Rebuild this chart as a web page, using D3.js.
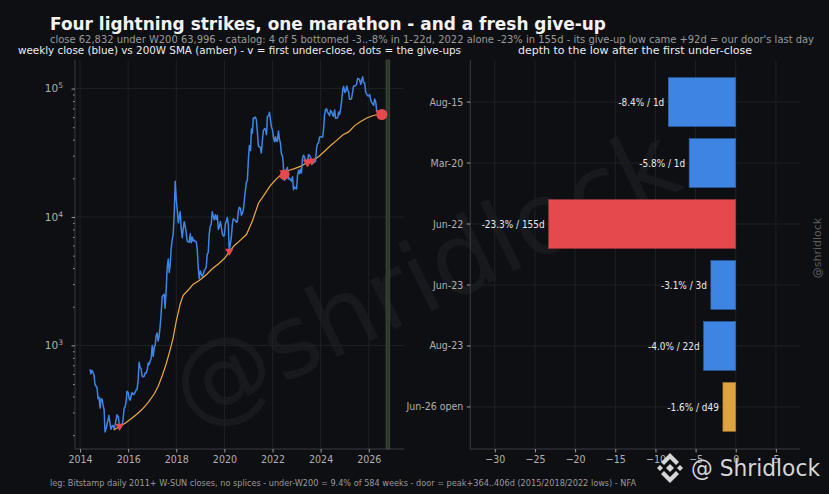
<!DOCTYPE html>
<html lang="en">
<head>
<meta charset="UTF-8">
<title>Four lightning strikes, one marathon</title>
<script src="https://cdn.jsdelivr.net/npm/d3@7"></script>
<style>
    body { margin: 0; background: #0d0f12; }
    svg { display: block; font-family: "DejaVu Sans", sans-serif; }
    .axis path { stroke: #3a3d42; }
    .axis line { stroke: #9a9a9a; }
    .axis text { fill: #b0b0b0; font-size: 10.5px; font-family: "DejaVu Sans", sans-serif; }
    .grid line { stroke: #1e2125; stroke-width: 1; }
</style>
</head>
<body>
<svg id="chart" width="829" height="494"></svg>
<script>
// weekly close (semi-monthly reading of the picture)
const weeklyClose = [
    ["2014-06-01",650],["2014-06-15",600],["2014-07-01",640],["2014-07-15",620],["2014-08-01",585],["2014-08-15",500],
    ["2014-09-01",480],["2014-09-15",470],["2014-10-01",385],["2014-10-15",395],["2014-11-01",325],["2014-11-15",385],
    ["2014-12-01",380],["2014-12-15",345],
    ["2015-01-01",315],["2015-01-15",212],["2015-02-01",225],["2015-02-15",245],["2015-03-01",262],["2015-03-15",285],
    ["2015-04-01",245],["2015-04-15",222],["2015-05-01",235],["2015-05-15",238],["2015-06-01",225],["2015-06-15",238],
    ["2015-07-01",262],["2015-07-15",288],["2015-08-01",280],["2015-08-15",255],["2015-08-23",229],["2015-09-01",228],
    ["2015-09-15",232],["2015-10-01",240],["2015-10-15",262],["2015-11-01",325],["2015-11-15",330],["2015-12-01",365],
    ["2015-12-15",440],
    ["2016-01-01",430],["2016-01-15",385],["2016-02-01",375],["2016-02-15",405],["2016-03-01",430],["2016-03-15",415],
    ["2016-04-01",418],["2016-04-15",430],["2016-05-01",450],["2016-05-15",455],["2016-06-01",540],["2016-06-15",740],
    ["2016-07-01",670],["2016-07-15",660],["2016-08-01",575],["2016-08-15",570],["2016-09-01",575],["2016-09-15",610],
    ["2016-10-01",610],["2016-10-15",640],["2016-11-01",730],["2016-11-15",710],["2016-12-01",760],["2016-12-15",790],
    ["2017-01-01",998],["2017-01-15",820],["2017-02-01",970],["2017-02-15",1010],["2017-03-01",1190],["2017-03-15",1250],
    ["2017-04-01",1080],["2017-04-15",1180],["2017-05-01",1420],["2017-05-15",1750],["2017-06-01",2400],["2017-06-15",2450],
    ["2017-07-01",2500],["2017-07-15",1950],["2017-08-01",2750],["2017-08-15",4000],["2017-09-01",4700],["2017-09-15",3700],
    ["2017-10-01",4300],["2017-10-15",5650],["2017-11-01",6700],["2017-11-15",7300],["2017-12-01",10900],["2017-12-15",19000],
    ["2018-01-01",13500],["2018-01-15",11500],["2018-02-01",9000],["2018-02-15",10000],["2018-03-01",11000],["2018-03-15",8300],
    ["2018-04-01",6900],["2018-04-15",8000],["2018-05-01",9200],["2018-05-15",8500],["2018-06-01",7500],["2018-06-15",6500],
    ["2018-07-01",6400],["2018-07-15",6350],["2018-08-01",7400],["2018-08-15",6300],["2018-09-01",7000],["2018-09-15",6500],
    ["2018-10-01",6600],["2018-10-15",6450],["2018-11-01",6400],["2018-11-15",5600],["2018-12-01",4000],["2018-12-15",3300],
    ["2019-01-01",3800],["2019-01-15",3600],["2019-02-01",3450],["2019-02-15",3600],["2019-03-01",3850],["2019-03-15",3900],
    ["2019-04-01",4100],["2019-04-15",5100],["2019-05-01",5300],["2019-05-15",7300],["2019-06-01",8550],["2019-06-15",8700],
    ["2019-07-01",11000],["2019-07-15",10200],["2019-08-01",9500],["2019-08-15",10400],["2019-09-01",9600],["2019-09-15",10300],
    ["2019-10-01",8000],["2019-10-15",8300],["2019-11-01",9200],["2019-11-15",8400],["2019-12-01",7400],["2019-12-15",7100],
    ["2020-01-01",7200],["2020-01-15",8800],["2020-02-01",9300],["2020-02-15",9900],["2020-03-01",8600],["2020-03-15",5400],
    ["2020-04-01",6200],["2020-04-15",6900],["2020-05-01",8800],["2020-05-15",9700],["2020-06-01",9500],["2020-06-15",9400],
    ["2020-07-01",9100],["2020-07-15",9200],["2020-08-01",11200],["2020-08-15",11900],["2020-09-01",11700],["2020-09-15",10300],
    ["2020-10-01",10700],["2020-10-15",11400],["2020-11-01",13800],["2020-11-15",16100],["2020-12-01",18700],["2020-12-15",19300],
    ["2021-01-01",29000],["2021-01-15",36000],["2021-02-01",33000],["2021-02-15",48500],["2021-03-01",45000],["2021-03-15",58900],
    ["2021-04-01",58800],["2021-04-15",60000],["2021-05-01",57000],["2021-05-15",46500],["2021-06-01",35600],["2021-06-15",35400],
    ["2021-07-01",34700],["2021-07-15",31500],["2021-08-01",40000],["2021-08-15",47100],["2021-09-01",48800],["2021-09-15",48300],
    ["2021-10-01",43800],["2021-10-15",60800],["2021-11-01",61300],["2021-11-15",65500],["2021-12-01",57000],["2021-12-15",50400],
    ["2022-01-01",47300],["2022-01-15",41800],["2022-02-01",38500],["2022-02-15",42200],["2022-03-01",39000],["2022-03-15",38800],
    ["2022-04-01",46800],["2022-04-15",40400],["2022-05-01",37700],["2022-05-15",31300],["2022-06-01",29800],["2022-06-12",26600],
    ["2022-06-19",20500],["2022-07-01",19300],["2022-07-15",21200],["2022-08-01",23300],["2022-08-15",24300],["2022-09-01",19800],
    ["2022-09-15",20100],["2022-10-01",19400],["2022-10-15",19100],["2022-11-01",20600],["2022-11-15",16300],["2022-12-01",17100],
    ["2022-12-15",16800],
    ["2023-01-01",16550],["2023-01-15",20900],["2023-02-01",23100],["2023-02-15",21800],["2023-03-01",23500],["2023-03-15",22000],
    ["2023-04-01",28500],["2023-04-15",30300],["2023-05-01",29300],["2023-05-15",26900],["2023-06-01",27200],["2023-06-11",25900],
    ["2023-07-01",30500],["2023-07-15",30300],["2023-08-01",29300],["2023-08-20",26100],["2023-09-01",26000],["2023-09-15",26500],
    ["2023-10-01",26900],["2023-10-15",27000],["2023-11-01",34500],["2023-11-15",37100],["2023-12-01",37700],["2023-12-15",41900],
    ["2024-01-01",42300],["2024-01-15",41800],["2024-02-01",42000],["2024-02-15",48300],["2024-03-01",62400],["2024-03-15",68400],
    ["2024-04-01",69600],["2024-04-15",65700],["2024-05-01",63900],["2024-05-15",61500],["2024-06-01",67700],["2024-06-15",66200],
    ["2024-07-01",62700],["2024-07-15",60800],["2024-08-01",68200],["2024-08-15",58700],["2024-09-01",58900],["2024-09-15",59200],
    ["2024-10-01",65600],["2024-10-15",62900],["2024-11-01",69900],["2024-11-15",80300],["2024-12-01",97000],["2024-12-15",104000],
    ["2025-01-01",93400],["2025-01-15",94500],["2025-02-01",104700],["2025-02-15",97500],["2025-03-01",94300],["2025-03-15",82500],
    ["2025-04-01",82500],["2025-04-15",83800],["2025-05-01",94200],["2025-05-15",104600],["2025-06-01",104600],["2025-06-15",105500],
    ["2025-07-01",108300],["2025-07-15",119800],["2025-08-01",119400],["2025-08-15",117300],["2025-09-01",108200],["2025-09-15",115300],
    ["2025-10-01",123500],["2025-10-15",111000],["2025-11-01",110000],["2025-11-15",94000],["2025-12-01",90500],["2025-12-15",88000],
    ["2026-01-01",87500],["2026-01-15",90000],["2026-02-01",81000],["2026-02-15",78000],["2026-03-01",76000],["2026-03-15",74000],
    ["2026-04-01",83000],["2026-04-15",80000],["2026-05-01",68000],["2026-05-15",66000],["2026-06-01",67000],["2026-06-14",63500],
    ["2026-07-01",64500],["2026-07-19",62832]
];

// 200-week SMA (amber)
const sma200 = [
    ["2015-05-24",219],["2015-08-16",232],["2015-11-15",248],["2016-02-15",268],["2016-05-15",292],["2016-08-01",318],
    ["2016-11-01",360],["2017-02-01",420],["2017-04-01",480],["2017-06-01",580],["2017-08-01",720],["2017-10-01",930],
    ["2017-11-15",1150],["2018-01-01",1550],["2018-03-01",2100],["2018-04-15",2450],["2018-07-15",2750],["2018-09-15",3000],
    ["2018-12-15",3200],["2019-04-01",3550],["2019-07-01",3950],["2019-10-01",4300],["2020-01-01",4750],["2020-03-15",5350],
    ["2020-06-01",6000],["2020-09-01",6600],["2020-12-01",7300],["2021-03-01",9300],["2021-06-01",12800],["2021-09-01",15000],
    ["2021-12-01",17600],["2022-03-01",19800],["2022-06-01",21800],["2022-09-01",23000],["2022-12-01",23800],["2023-03-01",24800],
    ["2023-06-01",26300],["2023-09-01",27600],["2023-12-01",29500],["2024-03-01",32500],["2024-06-01",36000],["2024-09-01",39500],
    ["2024-12-01",43500],["2025-03-01",46000],["2025-06-01",51500],["2025-09-01",55500],["2025-12-01",59000],["2026-03-01",61500],
    ["2026-07-19",63996]
];

// first under-closes (triangles) and give-ups (dots)
const underCloses = [["2015-08-23",232],["2020-03-15",5350],["2022-06-19",21800],["2023-06-11",26300],["2023-06-25",26500],["2023-08-20",27000],["2026-06-14",63700]];
const giveUps = [["2022-06-26",21000],["2022-07-10",21600],["2026-07-19",62832]];
const doorWindow = ["2026-09-20", "2026-11-15"];

const yearTicks = ["2014","2016","2018","2020","2022","2024","2026"];
const decadeTicks = [1e3, 1e4, 1e5];

// right panel: depth to the low after the first under-close
const episodes = ["Aug-15", "Mar-20", "Jun-22", "Jun-23", "Aug-23", "Jun-26 open"];
const depthPct = [-8.4, -5.8, -23.3, -3.1, -4.0, -1.6];
const depthLabels = ["-8.4% / 1d", "-5.8% / 1d", "-23.3% / 155d", "-3.1% / 3d", "-4.0% / 22d", "-1.6% / d49"];
const depthColors = ["#3d84e3", "#3d84e3", "#e5484d", "#3d84e3", "#3d84e3", "#dea43f"];
const depthTicks = [-30, -25, -20, -15, -10, -5, 0, 5];

const svg = d3.select("#chart");
const parse = d3.timeParse("%Y-%m-%d");

// the reference text is a bit narrower than plain DejaVu
function condense(sel, f) {
    sel.each(function() {
        const w = this.getComputedTextLength();
        d3.select(this).attr("textLength", w * f).attr("lengthAdjust", "spacingAndGlyphs");
    });
}

// ---------- left panel ----------
const L = {left: 75, right: 404, top: 60, bottom: 449};
const x = d3.scaleTime()
    .domain([parse("2013-10-16"), parse("2027-06-20")])
    .range([L.left, L.right]);
const y = d3.scaleLog()
    .domain([156, 167000])
    .range([L.bottom, L.top]);

// big watermark sits under everything
svg.append("text")
    .attr("transform", "translate(424,276) rotate(-26)")
    .attr("text-anchor", "middle").attr("dy", "0.35em")
    .attr("font-size", "100px").attr("fill", "#ffffff").attr("fill-opacity", 0.045)
    .text("@shridlock");

const left = svg.append("g");

left.append("g").attr("class", "grid")
    .selectAll("line").data(yearTicks).join("line")
    .attr("x1", d => x(parse(d + "-01-01"))).attr("x2", d => x(parse(d + "-01-01")))
    .attr("y1", L.top).attr("y2", L.bottom);
left.append("g").attr("class", "grid")
    .selectAll("line").data(decadeTicks).join("line")
    .attr("x1", L.left).attr("x2", L.right)
    .attr("y1", d => y(d)).attr("y2", d => y(d));

// door window
left.append("rect")
    .attr("x", x(parse(doorWindow[0])))
    .attr("width", x(parse(doorWindow[1])) - x(parse(doorWindow[0])))
    .attr("y", L.top).attr("height", L.bottom - L.top)
    .attr("fill", "#2c3a2b").attr("stroke", "#3a4b37").attr("stroke-width", 0.8);

const xAxis = left.append("g").attr("class", "axis")
    .attr("transform", "translate(0," + L.bottom + ")")
    .call(d3.axisBottom(x).tickValues(yearTicks.map(d => parse(d + "-01-01")))
        .tickFormat(d3.timeFormat("%Y")).tickSize(3.5).tickPadding(3.5));
xAxis.select(".domain").attr("d", "M" + L.left + ",0H" + L.right);
condense(xAxis.selectAll(".tick text"), 0.9);

const minorTicks = [];
[100, 1000, 10000, 100000].forEach(b => { for (let k = 2; k <= 9; k++) if (b * k >= 156 && b * k <= 167000) minorTicks.push(b * k); });
const yMinor = left.append("g").attr("class", "axis")
    .attr("transform", "translate(" + L.left + ",0)")
    .call(d3.axisLeft(y).tickValues(minorTicks).tickFormat("").tickSize(2));
yMinor.select(".domain").remove();
const yAxis = left.append("g").attr("class", "axis")
    .attr("transform", "translate(" + L.left + ",0)")
    .call(d3.axisLeft(y).tickValues(decadeTicks).tickSize(3.5).tickPadding(3.5).tickFormat(() => "10"));
yAxis.select(".domain").attr("d", "M0," + L.top + "V" + L.bottom);
yAxis.selectAll(".tick text").each(function(d) {
    d3.select(this).attr("dx", "-5px");
    d3.select(this).append("tspan")
        .attr("dy", "-0.55em").attr("font-size", "7.5px")
        .text(Math.round(Math.log10(d)));
});

const line = d3.line().x(d => x(parse(d[0]))).y(d => y(d[1]));
left.append("path").datum(sma200)
    .attr("d", line).attr("fill", "none")
    .attr("stroke", "#f0a83c").attr("stroke-width", 1.2);
left.append("path").datum(weeklyClose)
    .attr("d", line).attr("fill", "none")
    .attr("stroke", "#3d86e6").attr("stroke-width", 1.5).attr("stroke-linejoin", "round");

left.selectAll(".uc").data(underCloses).join("path")
    .attr("class", "uc")
    .attr("transform", d => "translate(" + x(parse(d[0])) + "," + y(d[1]) + ")")
    .attr("d", "M-4.2,-3.2L4.2,-3.2L0,4.2Z")
    .attr("fill", "#e5484d");
left.selectAll(".gu").data(giveUps).join("circle")
    .attr("class", "gu")
    .attr("cx", d => x(parse(d[0]))).attr("cy", d => y(d[1]))
    .attr("r", (d, i) => i === giveUps.length - 1 ? 5.5 : 4.5)
    .attr("fill", "#e5484d");

// ---------- right panel ----------
const R = {left: 470.3, right: 800, top: 60, bottom: 449};
const xr = d3.scaleLinear().domain([-33.05, 8]).range([R.left, R.right]);
const yr = d3.scaleBand().domain(episodes).range([R.top, R.bottom])
    .paddingInner(0.2).paddingOuter(0.29);

const right = svg.append("g");
right.append("g").attr("class", "grid")
    .selectAll("line").data(depthTicks).join("line")
    .attr("x1", d => xr(d)).attr("x2", d => xr(d))
    .attr("y1", R.top).attr("y2", R.bottom);
right.append("g").attr("class", "grid")
    .selectAll("line").data(episodes).join("line")
    .attr("x1", R.left).attr("x2", R.right)
    .attr("y1", d => yr(d) + yr.bandwidth() / 2).attr("y2", d => yr(d) + yr.bandwidth() / 2);

const xrAxis = right.append("g").attr("class", "axis")
    .attr("transform", "translate(0," + R.bottom + ")")
    .call(d3.axisBottom(xr).tickValues(depthTicks).tickFormat(d3.format("d")).tickSize(3.5).tickPadding(3.5));
xrAxis.select(".domain").attr("d", "M" + R.left + ",0H" + R.right);
condense(xrAxis.selectAll(".tick text"), 0.9);
const yrAxis = right.append("g").attr("class", "axis")
    .attr("transform", "translate(" + R.left + ",0)")
    .call(d3.axisLeft(yr).tickSize(3.5).tickPadding(3.5));
yrAxis.select(".domain").attr("d", "M0," + R.top + "V" + R.bottom);
yrAxis.selectAll("text").style("font-size", "11px");
condense(yrAxis.selectAll(".tick text"), 0.86);

const barData = episodes.map((e, i) => ({e: e, v: depthPct[i], label: depthLabels[i], color: depthColors[i]}));
right.selectAll(".bar").data(barData).join("rect")
    .attr("class", "bar")
    .attr("x", d => xr(d.v)).attr("width", d => xr(0) - xr(d.v))
    .attr("y", d => yr(d.e)).attr("height", yr.bandwidth())
    .attr("fill", d => d.color)
    .attr("stroke", d => d3.color(d.color).darker(0.8)).attr("stroke-width", 0.6);
const barLabels = right.selectAll(".blabel").data(barData).join("text")
    .attr("class", "blabel")
    .attr("x", d => xr(d.v) - 4).attr("y", d => yr(d.e) + yr.bandwidth() / 2)
    .attr("dy", "0.35em").attr("text-anchor", "end")
    .attr("fill", "#eaeaea").attr("font-size", "10.5px")
    .text(d => d.label);
condense(barLabels, 0.85);

// ---------- watermarks ----------
svg.append("text")
    .attr("transform", "translate(821,248) rotate(-90)")
    .attr("text-anchor", "middle")
    .attr("font-size", "11px").attr("fill", "#5c5f63")
    .text("@shridlock");

const logo = svg.append("g").attr("transform", "translate(670,468)").attr("fill", "#d6d6d6");
logo.append("path").attr("d", "M0,-4L4,0L0,4L-4,0Z");
logo.append("path").attr("d", "M-10,-3L-7,0L-10,3L-13,0Z");
logo.append("path").attr("d", "M10,-3L13,0L10,3L7,0Z");
logo.append("path").attr("d", "M0,-15L9,-6L6,-3L0,-9L-6,-3L-9,-6Z");
logo.append("path").attr("d", "M0,15L9,6L6,3L0,9L-6,3L-9,6Z");
svg.append("text")
    .attr("x", 691).attr("y", 476)
    .attr("font-size", "23px").attr("fill", "#d6d6d6")
    .attr("textLength", 129).attr("lengthAdjust", "spacingAndGlyphs")
    .text("@ Shridlock");

// ---------- titles ----------
svg.append("text")
    .attr("x", 50).attr("y", 30)
    .attr("font-size", "17.5px").attr("font-weight", "bold").attr("fill", "#f2f2f2")
    .attr("textLength", 556).attr("lengthAdjust", "spacingAndGlyphs")
    .text("Four lightning strikes, one marathon - and a fresh give-up");
svg.append("text")
    .attr("x", 50).attr("y", 42.5)
    .attr("font-size", "11px").attr("fill", "#9a9a9a")
    .attr("textLength", 764).attr("lengthAdjust", "spacingAndGlyphs")
    .text("close 62,832 under W200 63,996 - catalog: 4 of 5 bottomed -3..-8% in 1-22d, 2022 alone -23% in 155d - its give-up low came +92d = our door's last day");
svg.append("text")
    .attr("x", 18).attr("y", 54)
    .attr("font-size", "11px").attr("fill", "#ececec")
    .attr("textLength", 443).attr("lengthAdjust", "spacingAndGlyphs")
    .text("weekly close (blue) vs 200W SMA (amber) - v = first under-close, dots = the give-ups");
svg.append("text")
    .attr("x", 518).attr("y", 54)
    .attr("font-size", "11px").attr("fill", "#ececec")
    .attr("textLength", 234).attr("lengthAdjust", "spacingAndGlyphs")
    .text("depth to the low after the first under-close");
svg.append("text")
    .attr("x", 50).attr("y", 486)
    .attr("font-size", "9px").attr("fill", "#9a9a9a")
    .attr("textLength", 586).attr("lengthAdjust", "spacingAndGlyphs")
    .text("leg: Bitstamp daily 2011+ W-SUN closes, no splices - under-W200 = 9.4% of 584 weeks - door = peak+364..406d (2015/2018/2022 lows) - NFA");
</script>
</body>
</html>
